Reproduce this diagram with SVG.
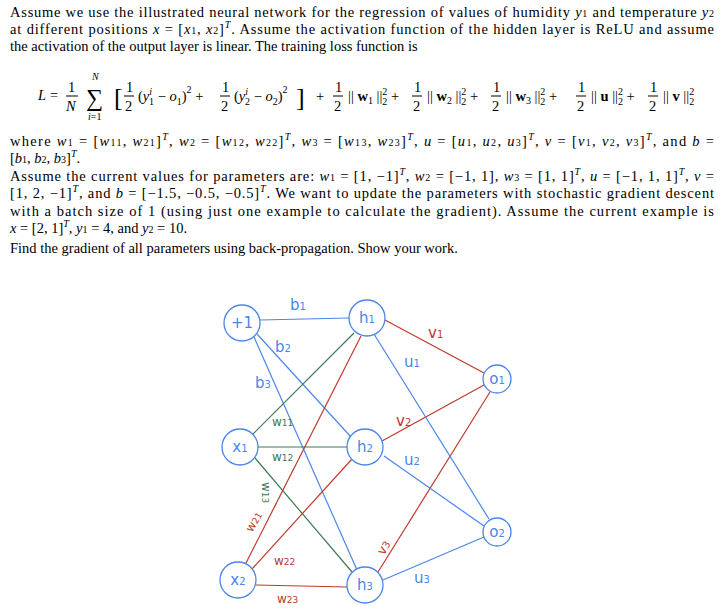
<svg xmlns="http://www.w3.org/2000/svg" width="724" height="615" viewBox="0 0 724 615">
<style>
.t{font-family:"Liberation Serif",serif;font-size:14.5px;fill:#000}
.i{font-style:italic}
.b{font-weight:bold}
.s{font-size:10px}
.n{fill:#fff;stroke:#4a86e8;stroke-width:1.3}
.h{font-family:"DejaVu Sans",sans-serif;font-size:15px}
.bl{stroke:#4a86e8;stroke-width:1.2}
.gr{stroke:#3d7a55;stroke-width:1.2}
.rd{stroke:#c0392b;stroke-width:1.2}
.lb{fill:#4a86e8}.lg{fill:#3d7a55}.lr{fill:#c0392b}
</style>
<rect width="724" height="615" fill="#fff"/>
<g id="text">
<text class="t" x="10" y="17" textLength="704" lengthAdjust="spacing">Assume we use the illustrated neural network for the regression of values of humidity <tspan class="i">y</tspan><tspan class="s">1</tspan> and temperature <tspan class="i">y</tspan><tspan class="s">2</tspan></text>
<text class="t" x="10" y="34" textLength="704" lengthAdjust="spacing">at different positions <tspan class="i">x</tspan> = [<tspan class="i">x</tspan><tspan class="s">1</tspan>, <tspan class="i">x</tspan><tspan class="s">2</tspan>]<tspan class="s i" dy="-6">T</tspan><tspan dy="6">.  Assume the activation function of the hidden layer is ReLU and assume</tspan></text>
<text class="t" x="10" y="51">the activation of the output layer is linear.  The training loss function is</text>
<g class="t">
<text x="38" y="100" class="i">L</text><text x="50" y="100">=</text>
<text x="68" y="92">1</text><line x1="66" y1="96" x2="78" y2="96" stroke="#000"/><text x="66" y="111" class="i">N</text>
<text x="86" y="106" font-size="24">∑</text><text x="92" y="80" class="i s">N</text><text x="88" y="120" class="s"><tspan class="i">i</tspan>=1</text>
<text x="114" y="106" font-size="26">[</text>
<text x="126" y="92">1</text><line x1="124" y1="96" x2="134" y2="96" stroke="#000"/><text x="125" y="111">2</text>
<text x="138" y="101">(<tspan class="i">y</tspan><tspan class="s i" dy="-6">i</tspan><tspan class="s" dx="-3" dy="10">1</tspan><tspan dy="-4"> − </tspan><tspan class="i">o</tspan><tspan class="s" dy="4">1</tspan><tspan dy="-4">)</tspan><tspan class="s" dy="-8">2</tspan><tspan dy="8"> +</tspan></text>
<text x="222" y="92">1</text><line x1="220" y1="96" x2="230" y2="96" stroke="#000"/><text x="221" y="111">2</text>
<text x="234" y="101">(<tspan class="i">y</tspan><tspan class="s i" dy="-6">i</tspan><tspan class="s" dx="-3" dy="10">2</tspan><tspan dy="-4"> − </tspan><tspan class="i">o</tspan><tspan class="s" dy="4">2</tspan><tspan dy="-4">)</tspan><tspan class="s" dy="-8">2</tspan></text>
<text x="296" y="106" font-size="26">]</text>
<text x="316" y="101">+</text>
<text x="335" y="92">1</text><line x1="333" y1="96" x2="343" y2="96" stroke="#000"/><text x="334" y="111">2</text>
<text x="348" y="101">|| <tspan class="b">w</tspan><tspan class="s" dy="3">1</tspan><tspan dy="-3"> ||</tspan><tspan class="s" dy="-6">2</tspan><tspan class="s" dx="-5" dy="10">2</tspan><tspan dy="-4"> +</tspan></text>
<text x="414" y="92">1</text><line x1="412" y1="96" x2="422" y2="96" stroke="#000"/><text x="413" y="111">2</text>
<text x="427" y="101">|| <tspan class="b">w</tspan><tspan class="s" dy="3">2</tspan><tspan dy="-3"> ||</tspan><tspan class="s" dy="-6">2</tspan><tspan class="s" dx="-5" dy="10">2</tspan><tspan dy="-4"> +</tspan></text>
<text x="493" y="92">1</text><line x1="491" y1="96" x2="501" y2="96" stroke="#000"/><text x="492" y="111">2</text>
<text x="506" y="101">|| <tspan class="b">w</tspan><tspan class="s" dy="3">3</tspan><tspan dy="-3"> ||</tspan><tspan class="s" dy="-6">2</tspan><tspan class="s" dx="-5" dy="10">2</tspan><tspan dy="-4">  +</tspan></text>
<text x="578" y="92">1</text><line x1="576" y1="96" x2="586" y2="96" stroke="#000"/><text x="577" y="111">2</text>
<text x="591" y="101">|| <tspan class="b">u</tspan> ||<tspan class="s" dy="-6">2</tspan><tspan class="s" dx="-5" dy="10">2</tspan><tspan dy="-4"> +</tspan></text>
<text x="650" y="92">1</text><line x1="648" y1="96" x2="658" y2="96" stroke="#000"/><text x="649" y="111">2</text>
<text x="663" y="101">|| <tspan class="b">v</tspan> ||<tspan class="s" dy="-6">2</tspan><tspan class="s" dx="-5" dy="10">2</tspan></text>
</g>
<text class="t" x="10" y="146" textLength="704" lengthAdjust="spacing">where <tspan class="i">w</tspan><tspan class="s">1</tspan>  =  [<tspan class="i">w</tspan><tspan class="s">11</tspan>, <tspan class="i">w</tspan><tspan class="s">21</tspan>]<tspan class="s i" dy="-6">T</tspan><tspan dy="6">, </tspan><tspan class="i">w</tspan><tspan class="s">2</tspan>  =  [<tspan class="i">w</tspan><tspan class="s">12</tspan>, <tspan class="i">w</tspan><tspan class="s">22</tspan>]<tspan class="s i" dy="-6">T</tspan><tspan dy="6">, </tspan><tspan class="i">w</tspan><tspan class="s">3</tspan>  =  [<tspan class="i">w</tspan><tspan class="s">13</tspan>, <tspan class="i">w</tspan><tspan class="s">23</tspan>]<tspan class="s i" dy="-6">T</tspan><tspan dy="6">, </tspan><tspan class="i">u</tspan>  =  [<tspan class="i">u</tspan><tspan class="s">1</tspan>, <tspan class="i">u</tspan><tspan class="s">2</tspan>, <tspan class="i">u</tspan><tspan class="s">3</tspan>]<tspan class="s i" dy="-6">T</tspan><tspan dy="6">, </tspan><tspan class="i">v</tspan>  =  [<tspan class="i">v</tspan><tspan class="s">1</tspan>, <tspan class="i">v</tspan><tspan class="s">2</tspan>, <tspan class="i">v</tspan><tspan class="s">3</tspan>]<tspan class="s i" dy="-6">T</tspan><tspan dy="6">,  and </tspan><tspan class="i">b</tspan>  =</text>
<text class="t" x="10" y="163">[<tspan class="i">b</tspan><tspan class="s">1</tspan>, <tspan class="i">b</tspan><tspan class="s">2</tspan>, <tspan class="i">b</tspan><tspan class="s">3</tspan>]<tspan class="s i" dy="-6">T</tspan><tspan dy="6">.</tspan></text>
<text class="t" x="10" y="181" textLength="704" lengthAdjust="spacing">Assume the current values for parameters are:  <tspan class="i">w</tspan><tspan class="s">1</tspan> = [1, −1]<tspan class="s i" dy="-6">T</tspan><tspan dy="6">, </tspan><tspan class="i">w</tspan><tspan class="s">2</tspan> = [−1, 1], <tspan class="i">w</tspan><tspan class="s">3</tspan> = [1, 1]<tspan class="s i" dy="-6">T</tspan><tspan dy="6">, </tspan><tspan class="i">u</tspan> = [−1, 1, 1]<tspan class="s i" dy="-6">T</tspan><tspan dy="6">, </tspan><tspan class="i">v</tspan> =</text>
<text class="t" x="10" y="198" textLength="704" lengthAdjust="spacing">[1, 2, −1]<tspan class="s i" dy="-6">T</tspan><tspan dy="6">, and </tspan><tspan class="i">b</tspan> = [−1.5, −0.5, −0.5]<tspan class="s i" dy="-6">T</tspan><tspan dy="6">.  We want to update the parameters with stochastic gradient descent</tspan></text>
<text class="t" x="10" y="216" textLength="704" lengthAdjust="spacing">with a batch size of 1 (using just one example to calculate the gradient).  Assume the current example is</text>
<text class="t" x="10" y="233"><tspan class="i">x</tspan> = [2, 1]<tspan class="s i" dy="-6">T</tspan><tspan dy="6">, </tspan><tspan class="i">y</tspan><tspan class="s">1</tspan> = 4, and <tspan class="i">y</tspan><tspan class="s">2</tspan> = 10.</text>
<text class="t" x="10" y="253">Find the gradient of all parameters using back-propagation. Show your work.</text>
</g>
<g id="connectors">
<line class="bl" x1="260" y1="320" x2="349" y2="318"/>
<line class="bl" x1="257" y1="334" x2="351" y2="437"/>
<line class="bl" x1="254" y1="337" x2="357" y2="570"/>
<line class="gr" x1="253" y1="434" x2="354" y2="333"/>
<line class="gr" x1="258" y1="447" x2="347" y2="447"/>
<line class="gr" x1="255" y1="458" x2="352" y2="572"/>
<line class="rd" x1="246" y1="563" x2="361" y2="336"/>
<line class="rd" x1="252" y1="569" x2="352" y2="459"/>
<line class="rd" x1="256" y1="585" x2="347" y2="587"/>
<line class="rd" x1="385" y1="320" x2="484" y2="373"/>
<line class="rd" x1="382" y1="441" x2="484" y2="385"/>
<line class="rd" x1="378" y1="572" x2="490" y2="392"/>
<line class="bl" x1="374" y1="334" x2="489" y2="519"/>
<line class="bl" x1="384" y1="456" x2="484" y2="526"/>
<line class="bl" x1="383" y1="580" x2="484" y2="537"/>
</g>
<g id="n_plus1"><circle class="n" cx="242" cy="323" r="18"/><text class="h lb" x="242" y="328" text-anchor="middle">+1</text></g>
<g id="n_x1"><circle class="n" cx="240" cy="447" r="18"/><text class="h lb" x="240" y="452" text-anchor="middle">x<tspan font-size="10">1</tspan></text></g>
<g id="n_x2"><circle class="n" cx="238" cy="580" r="18"/><text class="h lb" x="238" y="585" text-anchor="middle">x<tspan font-size="10">2</tspan></text></g>
<g id="n_h1"><circle class="n" cx="367" cy="318" r="18"/><text class="h lb" x="367" y="323" text-anchor="middle">h<tspan font-size="10">1</tspan></text></g>
<g id="n_h2"><circle class="n" cx="365" cy="447" r="18"/><text class="h lb" x="365" y="452" text-anchor="middle">h<tspan font-size="10">2</tspan></text></g>
<g id="n_h3"><circle class="n" cx="365" cy="585" r="18"/><text class="h lb" x="365" y="590" text-anchor="middle">h<tspan font-size="10">3</tspan></text></g>
<g id="n_o1"><circle class="n" cx="497" cy="379" r="14"/><text class="h lb" x="497" y="384" text-anchor="middle">o<tspan font-size="10">1</tspan></text></g>
<g id="n_o2"><circle class="n" cx="497" cy="532" r="14"/><text class="h lb" x="497" y="537" text-anchor="middle">o<tspan font-size="10">2</tspan></text></g>
<g id="labels" class="h">
<text class="lb" x="290" y="310">b<tspan font-size="10">1</tspan></text>
<text class="lb" x="275" y="352">b<tspan font-size="10">2</tspan></text>
<text class="lb" x="255" y="388">b<tspan font-size="10">3</tspan></text>
<text class="lg" x="272" y="426" font-size="12">w<tspan font-size="9">11</tspan></text>
<text class="lg" x="272" y="461" font-size="12">w<tspan font-size="9">12</tspan></text>
<text class="lg" font-size="12" transform="translate(262,482) rotate(90)">w<tspan font-size="9">13</tspan></text>
<text class="lr" font-size="12" transform="translate(252,533) rotate(-60)">w<tspan font-size="9">21</tspan></text>
<text class="lr" x="274" y="565" font-size="12">w<tspan font-size="9">22</tspan></text>
<text class="lr" x="277" y="603" font-size="12">w<tspan font-size="9">23</tspan></text>
<text class="lr" x="428" y="338">v<tspan font-size="10">1</tspan></text>
<text class="lb" x="404" y="367">u<tspan font-size="10">1</tspan></text>
<text class="lr" x="396" y="426">v<tspan font-size="10">2</tspan></text>
<text class="lb" x="404" y="465">u<tspan font-size="10">2</tspan></text>
<text class="lr" font-size="13" transform="translate(384,556) rotate(-60)">v<tspan font-size="10">3</tspan></text>
<text class="lb" x="414" y="583">u<tspan font-size="10">3</tspan></text>
</g>
</svg>
